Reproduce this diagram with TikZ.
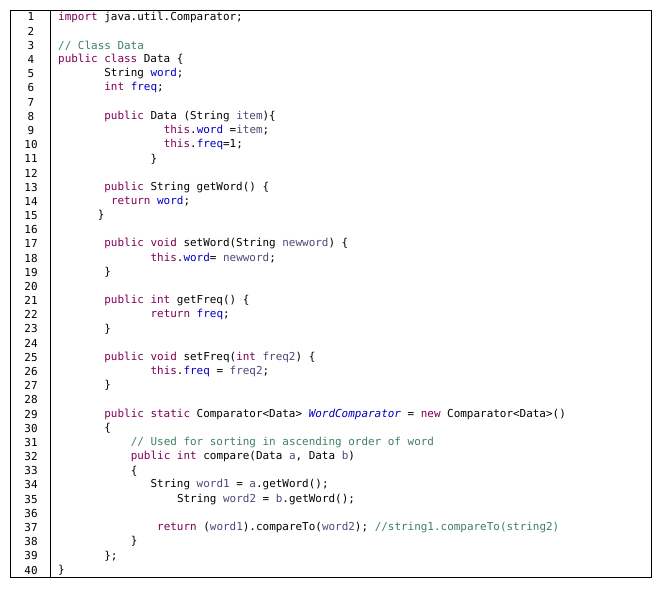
\documentclass[tikz,border=0pt]{standalone}
\usepackage{fontspec}
\setmonofont{DejaVu Sans Mono}
\definecolor{kwc}{RGB}{127,0,85}
\definecolor{fdc}{RGB}{0,0,192}
\definecolor{cmc}{RGB}{63,127,95}
\definecolor{lvc}{RGB}{80,70,120}
\newcommand{\kw}[1]{\textcolor{kwc}{#1}}
\newcommand{\fd}[1]{\textcolor{fdc}{#1}}
\newcommand{\cm}[1]{\textcolor{cmc}{#1}}
\newcommand{\lv}[1]{\textcolor{lvc}{#1}}
\newcommand{\codeln}[3]{\node[code] (c#1) at ({58+#2*6.6},{17+(#1-1)*14.18}) {#3};}
\begin{document}
\begin{tikzpicture}[x=1pt,y=-1pt,
  code/.style={anchor=west,inner sep=0pt,font=\ttfamily\fontsize{10.95}{12}\selectfont},
  num/.style={anchor=center,inner sep=0pt,font=\ttfamily\fontsize{10.95}{12}\selectfont}]
\useasboundingbox (0,0) rectangle (666,592);
\draw[line width=1pt] (10,10) rectangle (651,577);
\draw[line width=1pt] (50,10) -- (50,577);
\foreach \i in {1,...,40}{
  \node[num] (n\i) at (31,{17+(\i-1)*14.18}) {\i};
}
\codeln{1}{0}{\kw{import} java.util.Comparator;}
\codeln{3}{0}{\cm{// Class Data}}
\codeln{4}{0}{\kw{public} \kw{class} Data \{}
\codeln{5}{7}{String \fd{word};}
\codeln{6}{7}{\kw{int} \fd{freq};}
\codeln{8}{7}{\kw{public} Data (String \lv{item})\{}
\codeln{9}{16}{\kw{this}.\fd{word} =\lv{item};}
\codeln{10}{16}{\kw{this}.\fd{freq}=1;}
\codeln{11}{14}{\}}
\codeln{13}{7}{\kw{public} String getWord() \{}
\codeln{14}{8}{\kw{return} \fd{word};}
\codeln{15}{6}{\}}
\codeln{17}{7}{\kw{public} \kw{void} setWord(String \lv{newword}) \{}
\codeln{18}{14}{\kw{this}.\fd{word}= \lv{newword};}
\codeln{19}{7}{\}}
\codeln{21}{7}{\kw{public} \kw{int} getFreq() \{}
\codeln{22}{14}{\kw{return} \fd{freq};}
\codeln{23}{7}{\}}
\codeln{25}{7}{\kw{public} \kw{void} setFreq(\kw{int} \lv{freq2}) \{}
\codeln{26}{14}{\kw{this}.\fd{freq} = \lv{freq2};}
\codeln{27}{7}{\}}
\codeln{29}{7}{\kw{public} \kw{static} Comparator<Data> \fd{\itshape WordComparator} = \kw{new} Comparator<Data>()}
\codeln{30}{7}{\{}
\codeln{31}{11}{\cm{// Used for sorting in ascending order of word}}
\codeln{32}{11}{\kw{public} \kw{int} compare(Data \lv{a}, Data \lv{b})}
\codeln{33}{11}{\{}
\codeln{34}{14}{String \lv{word1} = \lv{a}.getWord();}
\codeln{35}{18}{String \lv{word2} = \lv{b}.getWord();}
\codeln{37}{15}{\kw{return} (\lv{word1}).compareTo(\lv{word2}); \cm{//string1.compareTo(string2)}}
\codeln{38}{11}{\}}
\codeln{39}{7}{\};}
\codeln{40}{0}{\}}
\end{tikzpicture}
\end{document}
